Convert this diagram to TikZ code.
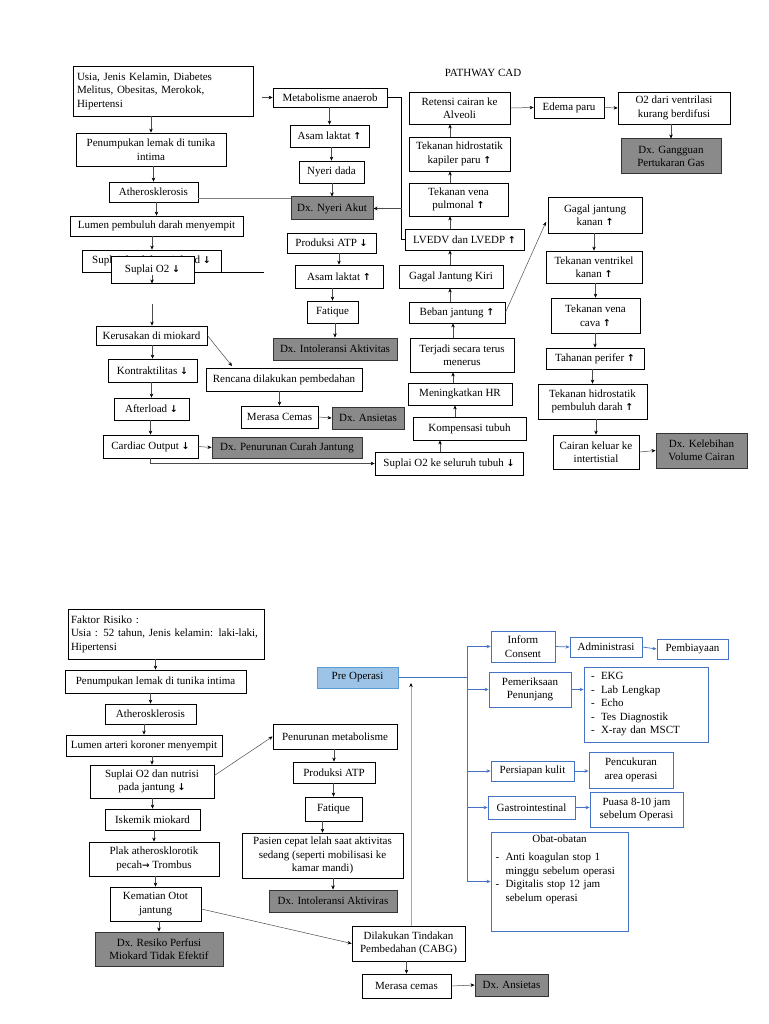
\documentclass[tikz,border=0pt]{standalone}
\usepackage{fontspec}
\setmainfont{Liberation Serif}
\newfontfamily\dvs{DejaVu Sans}
\usetikzlibrary{arrows.meta,calc}
\newcommand\up{{\dvs\bfseries\fontsize{9.5}{9.5}\selectfont ↑}}
\newcommand\dn{{\dvs\bfseries\fontsize{9.5}{9.5}\selectfont ↓}}
\newcommand\rarr{{\dvs\bfseries\fontsize{9}{9}\selectfont →}}
\newcommand\bx[7]{\node[#6,minimum width={#4-#2},minimum height={#5-#3}] (#1) at ({(#2+#4)/2},{(#3+#5)/2}) {#7};}
\newcommand\dar[2]{\draw[ar] (#1.south -| #2.north) -- (#2.north);}
\newcommand\uar[3]{\draw[ar] (#1.north -| #3,0) -- (#2.south -| #3,0);}
\newcommand\li[1]{\makebox[10pt][l]{-}#1}
\definecolor{dxg}{RGB}{138,138,138}
\definecolor{myblue}{RGB}{68,114,196}
\definecolor{prefill}{RGB}{157,195,230}
\definecolor{preline}{RGB}{91,155,213}
\tikzset{
 bx/.style={draw=black, line width=0.8pt, fill=white, align=center, inner sep=1pt, font=\fontsize{11}{13.5}\selectfont},
 dx/.style={bx, fill=dxg, draw=black!80, line width=1pt},
 bl/.style={bx, draw=myblue, line width=0.9pt},
 pre/.style={bx, fill=prefill, draw=preline, line width=1pt},
 ar/.style={draw=black!70, line width=0.5pt, -{Stealth[length=4pt,width=3.5pt,color=black]}},
 ln/.style={draw=black, line width=0.6pt},
 gln/.style={draw=black!50, line width=0.6pt},
 bar/.style={draw=myblue, line width=0.7pt, -{Stealth[length=4pt,width=3.5pt]}},
 bln/.style={draw=myblue, line width=0.9pt},
}
\begin{document}
\begin{tikzpicture}[x=1pt,y=-1pt]
\fill[white] (0,0) rectangle (768,1024);
\useasboundingbox (0,0) rectangle (768,1024);
% ---------- top ----------
\node[font=\fontsize{11}{13}\selectfont] (title) at (483,73) {PATHWAY CAD};
\bx{usia}{73}{66}{253}{116}{bx,align=left,text width=172pt}{Usia, Jenis Kelamin, Diabetes\\Melitus, Obesitas, Merokok,\\Hipertensi}
\bx{pen}{76}{133}{226}{166}{bx}{Penumpukan lemak di tunika\\intima}
\bx{ath}{109}{182}{198}{202}{bx}{Atherosklerosis}
\bx{lum}{70}{216}{243}{236}{bx}{Lumen pembuluh darah menyempit}
\bx{supd}{82}{250}{221}{272}{bx}{Suplai darah ke miokard \dn}
\bx{supo}{111}{256}{194}{283}{bx}{Suplai O2 \dn}
\bx{ker}{96}{326}{207}{345}{bx}{Kerusakan di miokard}
\bx{kon}{108}{359}{197}{382}{bx}{Kontraktilitas \dn}
\bx{aft}{114}{398}{189}{420}{bx}{Afterload \dn}
\bx{co}{103}{435}{198}{458}{bx}{Cardiac Output \dn}
\bx{dxpcj}{212}{437}{362}{458}{dx}{Dx. Penurunan Curah Jantung}
\bx{supt}{375}{452}{523}{475}{bx}{Suplai O2 ke seluruh tubuh \dn}
\bx{ren}{206}{368}{362}{391}{bx}{Rencana dilakukan pembedahan}
\bx{cem}{241}{406}{318}{428}{bx}{Merasa Cemas}
\bx{dxans}{332}{407}{404}{429}{dx}{Dx. Ansietas}
\bx{met}{273}{88}{387}{107}{bx}{Metabolisme anaerob}
\bx{asama}{290}{125}{369}{147}{bx}{Asam laktat \up}
\bx{nye}{299}{161}{364}{183}{bx}{Nyeri dada}
\bx{dxnye}{291}{197}{373}{220}{dx}{Dx. Nyeri Akut}
\bx{prod}{287}{233}{376}{253}{bx}{Produksi ATP \dn}
\bx{asamb}{295}{265}{383}{288}{bx}{Asam laktat \up}
\bx{fat}{307}{301}{358}{323}{bx}{Fatique}
\bx{dxint}{273}{338}{397}{360}{dx}{Dx. Intoleransi Aktivitas}
\bx{ret}{409}{92}{510}{124}{bx}{Retensi cairan ke\\Alveoli}
\bx{ede}{534}{97}{604}{118}{bx}{Edema paru}
\bx{otwo}{618}{92}{730}{124}{bx}{O2 dari ventrilasi\\kurang berdifusi}
\bx{dxgas}{621}{139}{721}{174}{dx}{Dx. Gangguan\\Pertukaran Gas}
\bx{tkp}{409}{137}{510}{171}{bx}{Tekanan hidrostatik\\kapiler paru \up}
\bx{tvp}{409}{183}{508}{216}{bx}{Tekanan vena\\pulmonal \up}
\bx{lve}{405}{229}{524}{250}{bx}{LVEDV dan LVEDP \up}
\bx{gjk}{399}{265}{503}{288}{bx}{Gagal Jantung Kiri}
\bx{beb}{409}{302}{505}{323}{bx}{Beban jantung \up}
\bx{gjr}{548}{197}{642}{233}{bx}{Gagal jantung\\kanan \up}
\bx{tvk}{546}{251}{642}{283}{bx}{Tekanan ventrikel\\kanan \up}
\bx{tvc}{551}{298}{640}{333}{bx}{Tekanan vena\\cava \up}
\bx{tah}{546}{348}{644}{369}{bx}{Tahanan perifer \up}
\bx{thp}{538}{384}{647}{419}{bx}{Tekanan hidrostatik\\pembuluh darah \up}
\bx{cai}{553}{435}{639}{469}{bx}{Cairan keluar ke\\intertistial}
\bx{dxkel}{656}{433}{747}{468}{dx}{Dx. Kelebihan\\Volume Cairan}
\bx{ter}{410}{338}{514}{372}{bx}{Terjadi secara terus\\menerus}
\bx{hr}{408}{383}{512}{405}{bx}{Meningkatkan HR}
\bx{kom}{413}{417}{526}{440}{bx}{Kompensasi tubuh}
% top connectors
\dar{usia}{pen}
\dar{pen}{ath}
\dar{ath}{lum}
\draw[ar] (lum.south -| 152,0) -- (supd.north -| 152,0);
\coordinate (soin) at (152,275);
\draw[ar] (soin) -- (supo.south -| soin);
\coordinate (kerin) at (152,304);
\draw[ar] (kerin) -- (ker.north -| kerin);
\draw[ln,line width=1pt] (supo.east |- supd.south) -- ++(70,0);
\draw[gln] ($(ath.east)+(0,6)$) coordinate (aa) -- (aa -| dxnye.west);
\dar{ker}{kon}
\dar{kon}{aft}
\dar{aft}{co}
\draw[ar] (co.east) -- (dxpcj.west);
\draw[ar] (co.south) |- (supt.west);
\coordinate (renin) at (232,366);
\draw[ar] (ker.east) -- (renin);
\dar{ren}{cem}
\draw[ar] (cem.east) -- (dxans.west);
\coordinate (metin) at (262,97.5);
\draw[ar] (metin) -- (met.west);
\draw[ln] (met.east) -| ($(lve.west)+(-3,0)$) -- (lve.west);
\draw[ar] ($(lve.west |- dxnye.east)+(-3,0)$) -- (dxnye.east);
\dar{met}{asama}
\dar{asama}{nye}
\dar{nye}{dxnye}
\dar{prod}{asamb}
\dar{asamb}{fat}
\dar{fat}{dxint}
\uar{supt}{kom}{440}
\uar{kom}{hr}{455}
\uar{hr}{ter}{453}
\uar{ter}{beb}{453}
\uar{beb}{gjk}{450}
\uar{gjk}{lve}{450}
\uar{lve}{tvp}{450}
\uar{tvp}{tkp}{450}
\uar{tkp}{ret}{450}
\draw[ar] (ret.east) -- (ede.west);
\draw[ar] (ede.east) -- (otwo.west);
\dar{otwo}{dxgas}
\coordinate (gjrin) at (546,222);
\draw[ar] (beb.east) -- (gjrin);
\dar{gjr}{tvk}
\dar{tvk}{tvc}
\dar{tvc}{tah}
\dar{tah}{thp}
\dar{thp}{cai}
\draw[ar] (cai.east) -- (dxkel.west);
% ---------- bottom ----------
\bx{fak}{68}{609}{264}{659}{bx,align=left,text width=190pt}{Faktor Risiko :\\Usia : 52 tahun, Jenis kelamin: laki-laki,\\Hipertensi}
\bx{penb}{65}{670}{246}{693}{bx}{Penumpukan lemak di tunika intima}
\bx{athb}{105}{704}{196}{724}{bx}{Atherosklerosis}
\bx{lumb}{66}{735}{222}{756}{bx}{Lumen arteri koroner menyempit}
\bx{supb}{90}{765}{214}{798}{bx}{Suplai O2 dan nutrisi\\pada jantung \dn}
\bx{isk}{105}{809}{200}{830}{bx}{Iskemik miokard}
\bx{plak}{89}{842}{219}{876}{bx}{Plak atherosklorotik\\pecah\rarr{} Trombus}
\bx{kem}{110}{887}{201}{921}{bx}{Kematian Otot\\jantung}
\bx{dxres}{95}{932}{223}{966}{dx}{Dx. Resiko Perfusi\\Miokard Tidak Efektif}
\bx{pre}{317}{667}{398}{688}{pre}{Pre Operasi}
\bx{penmet}{273}{724}{397}{749}{bx}{Penurunan metabolisme}
\bx{prodb}{293}{762}{375}{783}{bx}{Produksi ATP}
\bx{fatb}{305}{797}{362}{821}{bx}{Fatique}
\bx{pas}{242}{833}{403}{878}{bx}{Pasien cepat lelah saat aktivitas\\sedang (seperti mobilisasi ke\\kamar mandi)}
\bx{dxintb}{269}{890}{397}{912}{dx}{Dx. Intoleransi Aktiviras}
\bx{dil}{352}{926}{465}{961}{bx}{Dilakukan Tindakan\\Pembedahan (CABG)}
\bx{mer}{362}{974}{451}{998}{bx}{Merasa cemas}
\bx{dxansb}{475}{974}{548}{996}{dx}{Dx. Ansietas}
\bx{inf}{491}{631}{555}{662}{bl}{Inform\\Consent}
\bx{adm}{570}{637}{642}{657}{bl}{Administrasi}
\bx{pby}{657}{639}{728}{659}{bl}{Pembiayaan}
\bx{pmr}{489}{672}{571}{707}{bl}{Pemeriksaan\\Penunjang}
\bx{lst}{584}{667}{708}{742}{bl,align=left,text width=110pt}{\li{EKG}\\\li{Lab Lengkap}\\\li{Echo}\\\li{Tes Diagnostik}\\\li{X-ray dan MSCT}}
\bx{pers}{491}{761}{574}{781}{bl}{Persiapan kulit}
\bx{penc}{589}{752}{673}{788}{bl}{Pencukuran\\area operasi}
\bx{gas}{488}{796}{575}{819}{bl}{Gastrointestinal}
\bx{pua}{590}{792}{683}{827}{bl}{Puasa 8-10 jam\\sebelum Operasi}
\bx{obat}{491}{832}{628}{931}{bl,align=left,text width=128pt}{\makebox[128pt]{Obat-obatan}\\[5pt]\li{Anti koagulan stop 1}\\\hspace*{10pt}minggu sebelum operasi\\\li{Digitalis stop 12 jam}\\\hspace*{10pt}sebelum operasi\\[14pt]\mbox{}}
% bottom connectors
\dar{fak}{penb}
\dar{penb}{athb}
\dar{athb}{lumb}
\dar{lumb}{supb}
\dar{supb}{isk}
\dar{isk}{plak}
\dar{plak}{kem}
\dar{kem}{dxres}
\draw[ar] ($(supb.east)+(0,-6)$) -- (penmet.west);
\dar{penmet}{prodb}
\dar{prodb}{fatb}
\dar{fatb}{pas}
\dar{pas}{dxintb}
\draw[ar] ($(kem.east)+(0,5)$) -- (dil.west);
\dar{dil}{mer}
\draw[ar] (mer.east) -- (dxansb.west);
\coordinate (preup) at (411,683);
\draw[ar,draw=black!35,line width=0.8pt] (dil.north -| preup) -- (preup);
\coordinate (bv) at (467,0);
\draw[bln] (pre.east) -- (pre.east -| bv);
\draw[bln] (bv |- inf.west) -- (bv |- obat.west);
\foreach \n in {inf,pmr,pers,gas,obat} \draw[bar] (bv |- \n.west) -- (\n.west);
\draw[bar] (inf.east) -- (adm.west);
\draw[bar] (adm.east) -- (pby.west);
\draw[bar] (pmr.east) -- (pmr.east -| lst.west);
\draw[bar] (pers.east) -- (pers.east -| penc.west);
\draw[bar] (gas.east) -- (gas.east -| pua.west);
\end{tikzpicture}
\end{document}
